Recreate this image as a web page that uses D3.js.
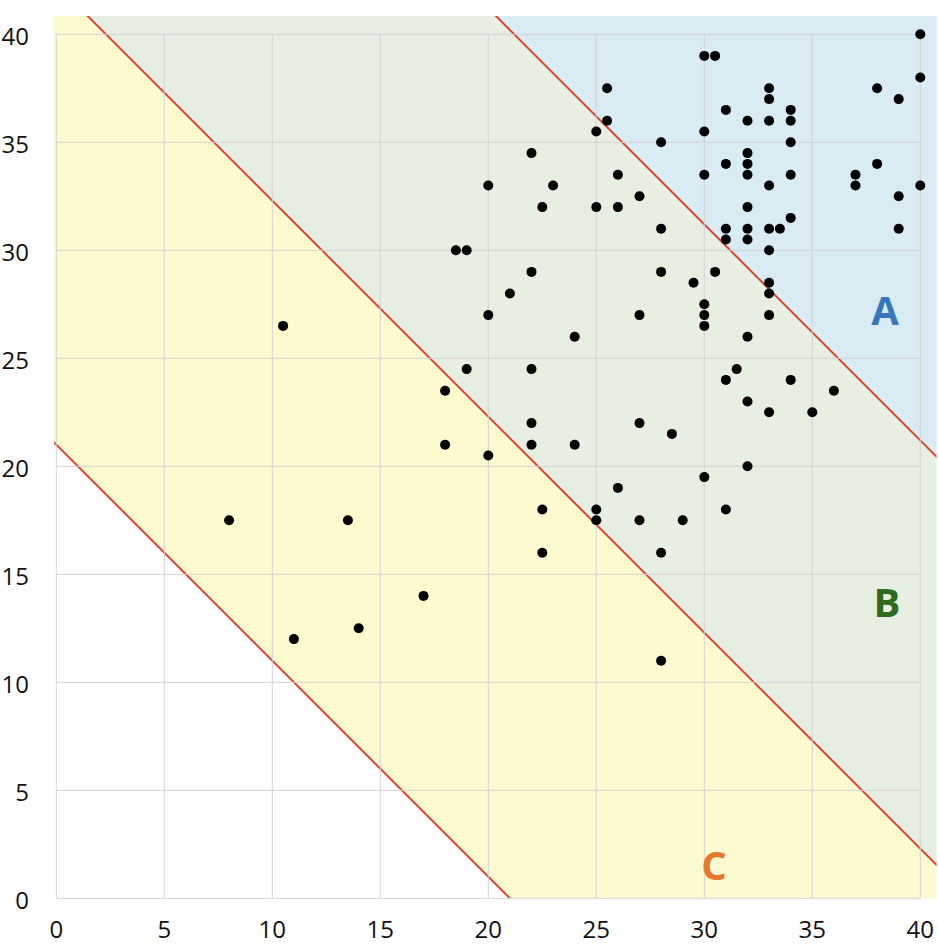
<!DOCTYPE html>
<html>
<head>
<meta charset="utf-8">
<script src="https://cdn.jsdelivr.net/npm/d3@7"></script>
<style>
  body { margin: 0; background: #fff; }
  svg { display: block; font-family: "Open Sans", sans-serif; }
</style>
</head>
<body>
<div class="container"></div>
<script>
// scatter points [x, y]
const points = [
  [25.5, 37.5], [25.5, 36], [25, 35.5], [28, 35], [22, 34.5], [26, 33.5], [20, 33], [23, 33],
  [27, 32.5], [22.5, 32], [25, 32], [26, 32], [28, 31], [18.5, 30], [19, 30], [22, 29],
  [28, 29], [21, 28], [29.5, 28.5],
  [40, 40], [30, 39], [30.5, 39], [40, 38], [33, 37.5], [33, 37], [38, 37.5], [39, 37],
  [31, 36.5], [34, 36.5], [32, 36], [33, 36], [34, 36], [30, 35.5], [34, 35], [32, 34.5],
  [31, 34], [32, 34], [38, 34], [30, 33.5], [32, 33.5], [34, 33.5], [37, 33.5], [37, 33],
  [33, 33], [40, 33], [39, 32.5], [32, 32], [34, 31.5], [31, 31], [32, 31], [33, 31],
  [33.5, 31], [39, 31], [31, 30.5], [32, 30.5], [33, 30], [30.5, 29], [33, 28.5], [33, 28],
  [30, 27.5], [30, 27], [30, 26.5], [33, 27], [32, 26], [31.5, 24.5], [31, 24], [34, 24],
  [36, 23.5], [32, 23], [33, 22.5], [35, 22.5], [32, 20], [30, 19.5], [31, 18], [29, 17.5],
  [20, 27], [27, 27], [24, 26], [19, 24.5], [22, 24.5], [18, 23.5], [22, 22], [27, 22],
  [28.5, 21.5], [18, 21], [22, 21], [24, 21], [20, 20.5], [26, 19], [22.5, 18], [25, 18],
  [25, 17.5], [27, 17.5], [22.5, 16], [28, 16],
  [8, 17.5], [10.5, 26.5], [11, 12], [13.5, 17.5], [14, 12.5], [17, 14], [28, 11]
];
// boundaries x + y = c
const boundaries = [21, 42.3, 61.2];
const zones = ["A", "B", "C"];
const zonePos = [[38.37, 26.54], [38.46, 13.02], [30.45, 0.85]];
const ticks = [0, 5, 10, 15, 20, 25, 30, 35, 40];

const width = 938, height = 946;
const x = d3.scaleLinear().domain([0, 40]).range([56.3, 920.3]);
const y = d3.scaleLinear().domain([0, 40]).range([898.3, 34.3]);

const svg = d3.select(".container").append("svg")
  .attr("width", width).attr("height", height);

// plot background extends a bit beyond the axes
const bx0 = -0.1, bx1 = 40.75, by0 = 0, by1 = 40.85;
svg.append("clipPath").attr("id", "plot")
  .append("rect")
  .attr("x", x(bx0)).attr("y", y(by1))
  .attr("width", x(bx1) - x(bx0)).attr("height", y(by0) - y(by1));

const bg = svg.append("g").attr("clip-path", "url(#plot)");
const line = d3.line().x(d => x(d[0])).y(d => y(d[1]));

bg.append("rect")
  .attr("x", x(bx0)).attr("y", y(by1))
  .attr("width", x(bx1) - x(bx0)).attr("height", y(by0) - y(by1))
  .attr("fill", "#fefad0");

const below = c => [[-100, -100], [c + 100, -100], [-100, c + 100]];
const above = c => [[c - 100, 100], [100, c - 100], [100, 100]];

bg.append("path").attr("d", line(below(boundaries[0])) + "Z").attr("fill", "#fff");
bg.append("path").attr("d", line(above(boundaries[1])) + "Z").attr("fill", "#e6efe2");
bg.append("path").attr("d", line(above(boundaries[2])) + "Z").attr("fill", "#d9ebf3");

// grid
const grid = svg.append("g").attr("stroke", "#d5d3d6").attr("stroke-width", 1);
grid.selectAll("line.v").data(ticks).join("line")
  .attr("class", "v")
  .attr("x1", d => x(d)).attr("x2", d => x(d))
  .attr("y1", y(0)).attr("y2", y(40));
grid.selectAll("line.h").data(ticks).join("line")
  .attr("class", "h")
  .attr("y1", d => y(d)).attr("y2", d => y(d))
  .attr("x1", x(0)).attr("x2", x(40));

// boundary lines
bg.selectAll("path.bound").data(boundaries).join("path")
  .attr("class", "bound")
  .attr("d", c => line([[c - 100, 100], [100, c - 100]]))
  .attr("fill", "none")
  .attr("stroke", "#da4334")
  .attr("stroke-width", 2);

// zone labels
const zoneColor = d3.scaleOrdinal().domain(zones).range(["#3777bd", "#2f6b1f", "#e8792c"]);
svg.append("g").selectAll("text").data(zones).join("text")
  .attr("x", (d, i) => x(zonePos[i][0]))
  .attr("y", (d, i) => y(zonePos[i][1]))
  .attr("text-anchor", "middle")
  .attr("font-size", 40)
  .attr("font-weight", "bold")
  .attr("fill", d => zoneColor(d))
  .text(d => d);

// points
svg.append("g").selectAll("circle").data(points).join("circle")
  .attr("cx", d => x(d[0]))
  .attr("cy", d => y(d[1]))
  .attr("r", 5)
  .attr("fill", "#000");

// tick labels
svg.append("g").selectAll("text").data(ticks).join("text")
  .attr("x", 29)
  .attr("y", d => y(d) + 10.5)
  .attr("text-anchor", "end")
  .attr("font-size", 24)
  .attr("fill", "#111")
  .text(d => d);

svg.append("g").selectAll("text").data(ticks).join("text")
  .attr("x", d => x(d))
  .attr("y", 938)
  .attr("text-anchor", "middle")
  .attr("font-size", 24)
  .attr("fill", "#111")
  .text(d => d);
</script>
</body>
</html>
